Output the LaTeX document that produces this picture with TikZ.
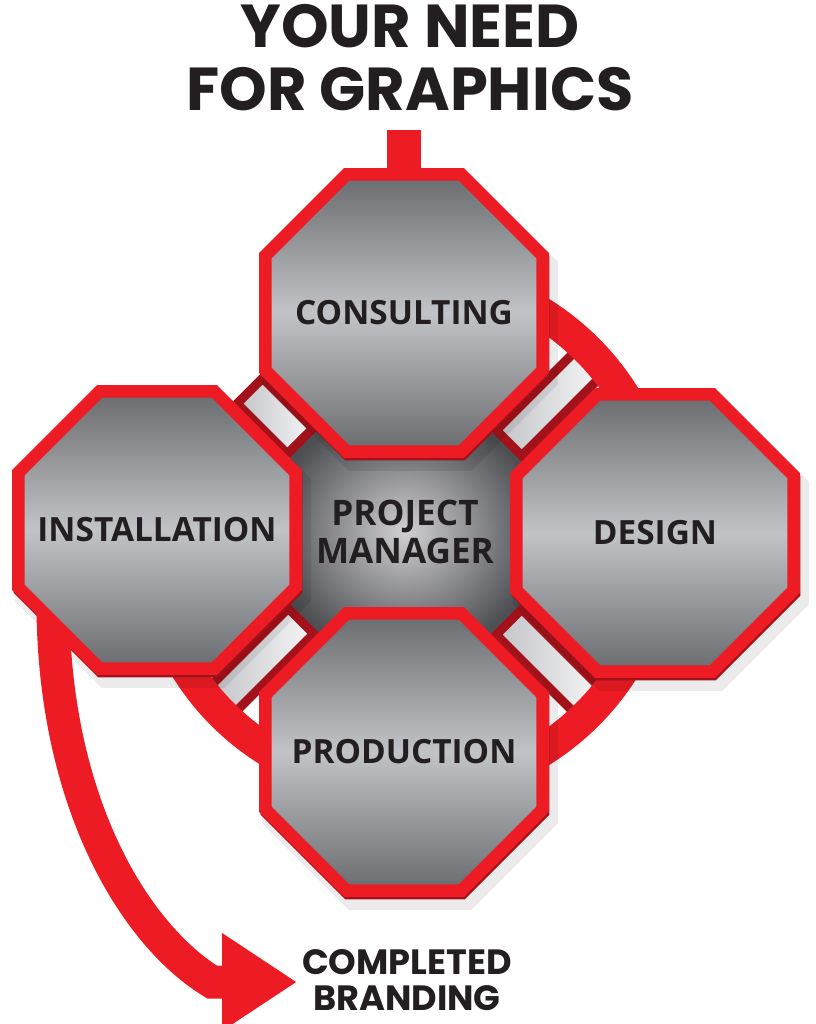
\documentclass[tikz,border=0pt]{standalone}
\usepackage{fontspec}
\setmainfont{Open Sans}
\newfontfamily\headfont{Poppins}
\usetikzlibrary{shapes.geometric,arrows.meta}
\definecolor{brandred}{HTML}{ED1C24}
\definecolor{deepred}{HTML}{A3121A}
\definecolor{steeldark}{HTML}{6A6B6F}
\definecolor{steellight}{HTML}{C2C3C7}
\definecolor{hubdark}{HTML}{4E4F53}
\definecolor{hublight}{HTML}{D0D0D2}
\definecolor{ink}{HTML}{231F20}
\begin{document}
\begin{tikzpicture}[x=0.02cm, y=-0.02cm,
        octlabel/.style={
            text=ink, font=\bfseries\fontsize{19}{22}\selectfont
        },
        octagon/.style={
            regular polygon, regular polygon sides=8, minimum size=6cm, inner sep=0pt,
            draw=brandred, line width=0.25cm,
            top color=steeldark, bottom color=steeldark, middle color=steellight,
            label={[octlabel]center:#1}
        },
        backplate/.style={
            regular polygon, regular polygon sides=8, minimum size=6.25cm, inner sep=0pt, fill=deepred
        },
        softshade/.style={
            regular polygon, regular polygon sides=8, minimum size=6.4cm, inner sep=0pt, fill=black, opacity=0.08
        },
        link/.style={
            rectangle, minimum width=2.26cm, minimum height=0.72cm,
            draw=deepred, line width=0.18cm, left color=steellight, right color=white!85!steellight
        },
        heading/.style={
            align=center, text=ink, font=\headfont\bfseries\fontsize{34.5}{36}\selectfont
        }
    ]
    \useasboundingbox (0,0) rectangle (815,1024);
    \coordinate (hub) at (405,532);

    % hub, links and ring
    \node[rectangle, minimum width=5.4cm, minimum height=4.9cm, inner color=hublight, outer color=hubdark] (hubplate) at (hub) {};
    \node[link, rotate=-45, minimum width=1.42cm] (linkA) at (275,416) {};
    \node[link, rotate=45] (linkB) at (549,403) {};
    \node[link, rotate=45] (linkC) at (261,661) {};
    \node[link, rotate=-45] (linkD) at (549,662) {};
    \draw[brandred, line width=0.64cm] ([shift={(90:5.16cm)}]hub) arc[start angle=90, end angle=-185, radius=5.16cm];

    % shadows
    \foreach \n/\x/\y in {a/404/313, b/655/533, c/157/530, d/404/752}{
        \node[softshade] (shade\n) at (\x+6,\y+10) {};
        \node[backplate] (plate\n) at (\x+1,\y+3) {};
    }

    % exit arrow
    \coordinate (arrowstart) at (53,590);
    \coordinate (arrowtip) at (297,982);
    \draw[brandred, line width=0.66cm, -{Triangle[length=1.5cm, width=1.85cm]}] (arrowstart) .. controls (50,800) and (135,935) .. (212,982) -- (arrowtip);

    % nodes
    \node[octagon=CONSULTING] (consulting) at (404,313) {};
    \node[octagon=DESIGN] (design) at (655,533) {};
    \node[octagon=INSTALLATION] (installation) at (157,530) {};
    \node[octagon=PRODUCTION] (production) at (404,752) {};
    \node[align=center, text=ink, font=\bfseries\fontsize{20}{22}\selectfont] (pm) at (hub) {PROJECT\\MANAGER};

    \node[heading] (need) at (410,58) {YOUR NEED\\FOR GRAPHICS};
    \node[heading, font=\headfont\bfseries\fontsize{20}{20}\selectfont] (done) at (407,980) {COMPLETED\\BRANDING};

    \coordinate (stemtop) at (404,130);
    \draw[brandred, line width=0.68cm] (stemtop) -- (stemtop |- consulting.north);
\end{tikzpicture}
\end{document}
